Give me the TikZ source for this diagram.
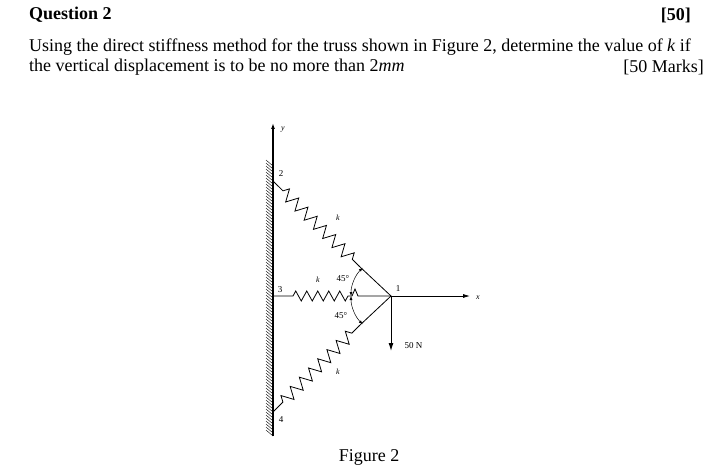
\documentclass[tikz,border=0pt]{standalone}
\usepackage{fontspec}
\setmainfont{Liberation Serif}
\usetikzlibrary{decorations.pathmorphing,arrows.meta}
\begin{document}
\begin{tikzpicture}[x=1pt,y=-1pt,
  spring/.style={decorate,decoration={zigzag,segment length=13,amplitude=6,pre length=14,post length=6}},
  lbl/.style={font=\fontsize{9}{10}\selectfont},
  sm/.style={font=\fontsize{8}{9}\selectfont\itshape},
  txt/.style={font=\fontsize{18}{21}\selectfont,anchor=west,inner sep=0}]
\useasboundingbox (0,0) rectangle (720,476);
\node[txt,font=\fontsize{18}{21}\selectfont\bfseries] (q) at (29,15) {Question 2};
\node[txt,font=\fontsize{18}{21}\selectfont\bfseries,anchor=east] (m) at (691,15) {[50]};
\node[txt] (l1) at (29,47) {Using the direct stiffness method for the truss shown in Figure 2, determine the value of \textit{k} if};
\node[txt] (l2) at (29,67) {the vertical displacement is to be no more than 2\textit{mm}};
\node[txt,anchor=east] (mk) at (704,67) {[50 Marks]};
\coordinate (n2) at (273,181);
\coordinate (n3) at (273,296);
\coordinate (n4) at (273,412);
\coordinate (n1) at (391,296);
\draw[line width=1.2pt,-{Latex[length=6pt,width=4pt]}] (273,436) -- (273,123);
\foreach \yy in {160,163,...,430} \draw[line width=0.4pt] (266,\yy) -- (273,\yy+6);
\node[sm] (ylab) at (283,130) {y};
\coordinate (c2) at (359,266);
\coordinate (c3) at (352,296);
\coordinate (c4) at (359,326);
\draw[line width=0.8pt,spring] (n2) -- (c2);
\draw[line width=0.8pt,decorate,decoration={zigzag,segment length=11,amplitude=5,pre length=20,post length=4}] (n3) -- (c3);
\draw[line width=0.8pt,spring] (n4) -- (c4);
\draw[line width=0.8pt] (c2) -- (n1) -- (c4);
\draw[line width=0.8pt] (c3) -- (355,289) -- (358,296) -- (n1);
\draw[line width=0.8pt,-{Latex[length=7pt,width=4pt]}] (n1) -- (470,296);
\draw[line width=1pt,-{Latex[length=8pt,width=5pt]}] (n1) -- (391,351);
\draw[line width=0.5pt,{Latex[length=4pt,width=3pt]}-{Latex[length=4pt,width=3pt]}] ([shift={(135:40)}]n1) arc[start angle=135,end angle=180,radius=40];
\draw[line width=0.5pt,{Latex[length=4pt,width=3pt]}-{Latex[length=4pt,width=3pt]}] ([shift={(180:40)}]n1) arc[start angle=180,end angle=225,radius=40];
\node[lbl] (a1) at (343,279) {45°};
\node[lbl] (a2) at (341,316) {45°};
\node[sm] (k1) at (338,218) {k};
\node[sm] (k2) at (318,280) {k};
\node[sm] (k3) at (338,372) {k};
\node[lbl] at (281,174) {2};
\node[lbl] at (280,290) {3};
\node[lbl] at (281,420) {4};
\node[lbl] at (398,289) {1};
\node[sm] at (478,298) {x};
\node[lbl,anchor=west] at (401,346) {50 N};
\node[font=\fontsize{18}{21}\selectfont] (fig) at (369,457) {Figure 2};
\end{tikzpicture}
\end{document}
